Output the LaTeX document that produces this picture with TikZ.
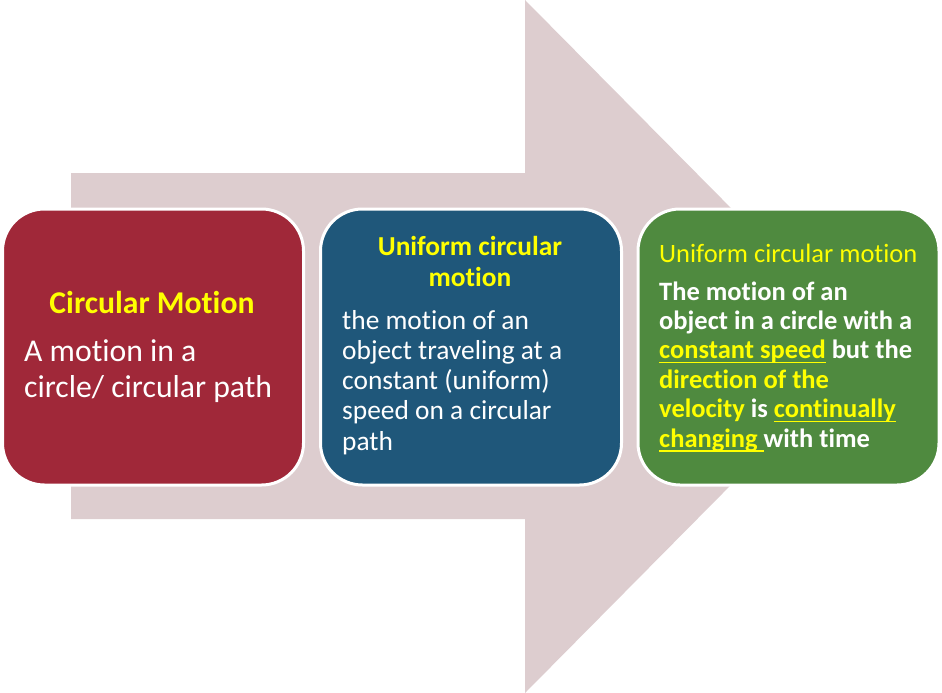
\documentclass[tikz,border=0pt]{standalone}
\usepackage{fontspec}
\setmainfont[Ligatures={NoCommon}]{Carlito}
\newcommand\myul[1]{\setbox0\hbox{#1}\rlap{\rule[-4.5pt]{\wd0}{1.6pt}}\box0}
\definecolor{arrowc}{RGB}{221,205,207}
\definecolor{redbox}{RGB}{160,40,57}
\definecolor{bluebox}{RGB}{31,87,122}
\definecolor{greenbox}{RGB}{79,138,63}
\definecolor{ylw}{RGB}{255,255,0}
\tikzset{
  box/.style={draw=white, line width=3pt, rounded corners=42pt, minimum width=301pt, minimum height=276pt, inner sep=0pt},
  txt/.style={inner sep=0pt, anchor=base west, text=white},
  ctxt/.style={inner sep=0pt, anchor=base, text=ylw},
}
\begin{document}
\begin{tikzpicture}[x=1pt,y=-1pt]
\useasboundingbox (0,0) rectangle (942,693);
% big arrow
\fill[arrowc] (71,173) -- (525,173) -- (525,0) -- (868,346.5) -- (525,693) -- (525,519) -- (71,519) -- cycle;
% boxes
\node[box, fill=redbox] (red) at (153,347) {};
\node[box, fill=bluebox] (blue) at (471,347) {};
\node[box, fill=greenbox] (green) at (788.5,347) {};
% red text
\node[ctxt, font=\fontsize{31.7}{36}\selectfont\bfseries] (rt) at (152,313) {Circular Motion};
\node[txt, font=\fontsize{31.7}{36}\selectfont] (r1) at (24,361) {A motion in a};
\node[txt, font=\fontsize{31.7}{36}\selectfont] (r2) at (24,397) {circle/ circular path};
% blue text
\node[ctxt, font=\fontsize{27.4}{30.5}\selectfont\bfseries] (bt1) at (470,255) {Uniform circular};
\node[ctxt, font=\fontsize{27.4}{30.5}\selectfont\bfseries] (bt2) at (470,286) {motion};
\node[txt, font=\fontsize{27.4}{30.5}\selectfont] (b1) at (342,329) {the motion of an};
\node[txt, font=\fontsize{27.4}{30.5}\selectfont] (b2) at (342,359.3) {object traveling at a};
\node[txt, font=\fontsize{27.4}{30.5}\selectfont] (b3) at (342,389.6) {constant (uniform)};
\node[txt, font=\fontsize{27.4}{30.5}\selectfont] (b4) at (342,419.9) {speed on a circular};
\node[txt, font=\fontsize{27.4}{30.5}\selectfont] (b5) at (342,450.2) {path};
% green text
\node[txt, text=ylw, font=\fontsize{26.5}{29.4}\selectfont] (gt) at (659,262) {Uniform circular motion};
\node[txt, font=\fontsize{26.5}{29.4}\selectfont\bfseries] (g1) at (659,300) {The motion of an};
\node[txt, font=\fontsize{26.5}{29.4}\selectfont\bfseries] (g2) at (659,329.4) {object in a circle with a};
\node[txt, font=\fontsize{26.5}{29.4}\selectfont\bfseries] (g3) at (659,358.8) {{\color{ylw}\myul{constant speed}} but the};
\node[txt, text=ylw, font=\fontsize{26.5}{29.4}\selectfont\bfseries] (g4) at (659,388.2) {direction of the};
\node[txt, font=\fontsize{26.5}{29.4}\selectfont\bfseries] (g5) at (659,417.6) {{\color{ylw}velocity} is {\color{ylw}\myul{continually}}};
\node[txt, font=\fontsize{26.5}{29.4}\selectfont\bfseries] (g6) at (659,447) {{\color{ylw}\myul{changing\ }}with time};
\end{tikzpicture}
\end{document}
